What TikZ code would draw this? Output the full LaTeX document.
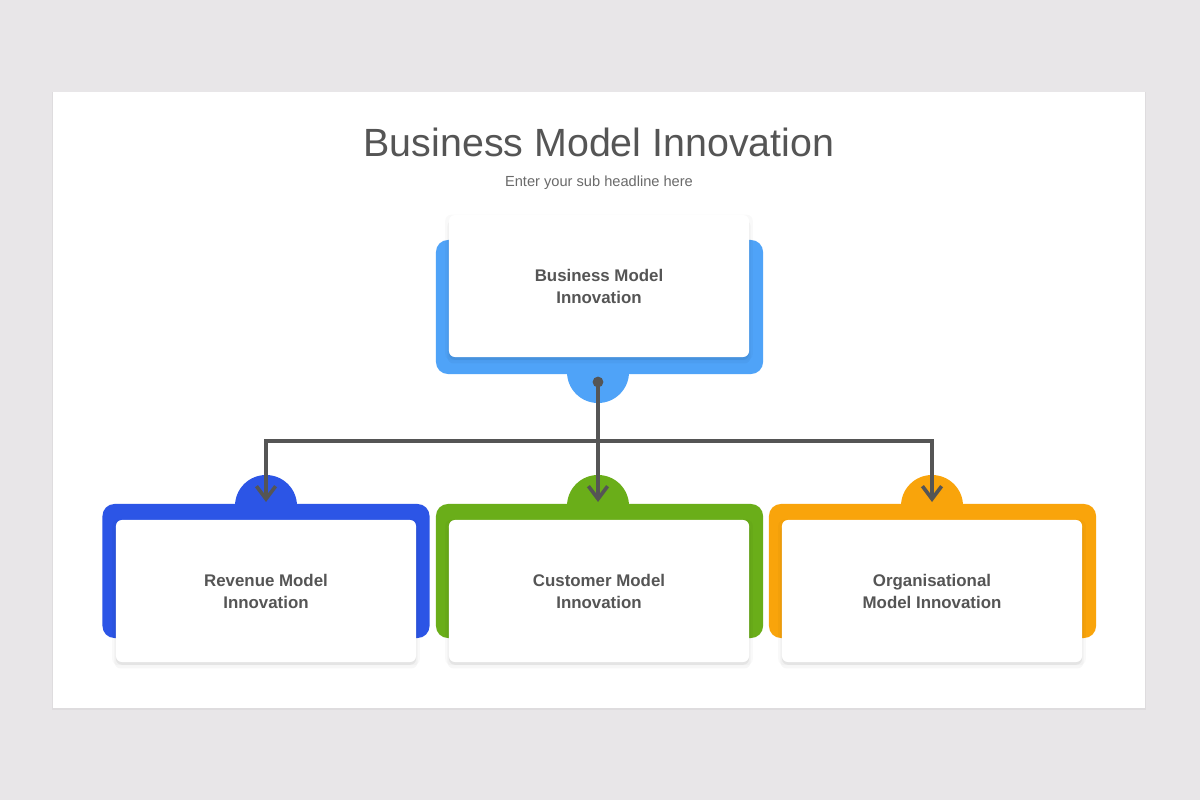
\documentclass[tikz,border=0pt]{standalone}
\usepackage{fontspec}
\setmainfont{Liberation Sans}
\usetikzlibrary{arrows.meta,positioning,calc,shadows}
\definecolor{ink}{HTML}{555555}
\definecolor{muted}{HTML}{6A6A6A}
\definecolor{canvas}{HTML}{E8E6E8}
\definecolor{sky}{HTML}{4FA3F8}
\definecolor{royal}{HTML}{2C55E6}
\definecolor{leaf}{HTML}{6AAE19}
\definecolor{amber}{HTML}{F9A40B}
\tikzset{
  frame/.style={fill=#1,rounded corners=0.3cm,minimum width=8.175cm,minimum height=3.35cm,inner sep=0pt},
  bump/.style={circle,fill=#1,minimum size=1.55cm,inner sep=0pt},
  card/.style={fill=white,rounded corners=0.15cm,minimum width=7.5cm,minimum height=3.55cm,inner sep=0pt,align=center,
    font=\fontsize{12}{15.6}\selectfont\bfseries,text=ink,
    general shadow={fill=black,fill opacity=0.025,shadow yshift=-1pt,shadow scale=1.025},
    general shadow={fill=black,fill opacity=0.03,shadow yshift=-4pt,shadow scale=1.01},
    general shadow={fill=black,fill opacity=0.05,shadow yshift=-2pt}},
  wire/.style={line width=2.6pt,draw=ink},
  flow/.style={wire,-{Straight Barb[length=3.2mm,width=4.8mm]},shorten >=0.1cm}
}
\begin{document}
\begin{tikzpicture}[x=0.025cm,y=-0.025cm]
  \fill[canvas] (0,0) rectangle (1200,800);
  \fill[black,opacity=0.04] (52,92) rectangle (1146,710);
  \fill[white] (53,92) rectangle (1145,708);

  \node[font=\fontsize{28}{32}\selectfont,text=ink] (title) at (599,142) {Business Model Innovation};
  \node[font=\fontsize{10.4}{12}\selectfont,text=muted] (sub) at (599,183) {Enter your sub headline here};

  % top box
  \node[bump=sky] (btop) at (598,372) {};
  \node[frame=sky] (ftop) at (599.5,307) {};
  \node[card] (ctop) at (599,286) {Business Model\\Innovation};

  % bottom row
  \node[bump=royal] (bl) at (266,506) {};
  \node[bump=leaf] (bg) at (598,506) {};
  \node[bump=amber] (bo) at (932,506) {};
  \node[frame=royal] (fl) at (266,571) {};
  \node[frame=leaf] (fg) at (599.5,571) {};
  \node[frame=amber] (fo) at (932.5,571) {};
  \node[card] (cl) at (266,591) {Revenue Model\\Innovation};
  \node[card] (cg) at (599,591) {Customer Model\\Innovation};
  \node[card] (co) at (932,591) {Organisational\\Model Innovation};

  % connectors
  \node[circle,fill=ink,minimum size=0.27cm,inner sep=0pt] (hub) at (598,382) {};
  \coordinate (bus) at (598,441);
  \draw[flow] (hub.center) -- (bg.center);
  \draw[flow] (bus) -| (bl.center);
  \draw[flow] (bus) -| (bo.center);
\end{tikzpicture}
\end{document}
